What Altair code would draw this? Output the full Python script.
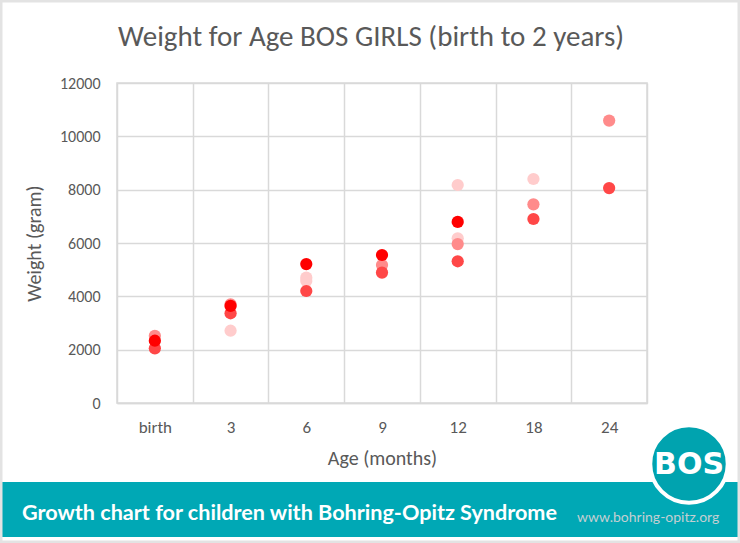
import altair as alt
import pandas as pd

# ---- data ----
ages = ["birth", "3", "6", "9", "12", "18", "24"]

# weight in grams per age category; None = no measurement
girl_5 = [None, 2710, 4700, None, 8175, 8400, None]
girl_4 = [None, None, 4575, None, 6175, None, None]
girl_3 = [2520, 3700, None, 5175, 5960, 7450, 10590]
girl_2 = [2050, 3365, 4200, 4890, 5315, 6900, 8060]
girl_1 = [2335, 3640, 5210, 5550, 6790, None, None]

series_names = ["Girl 5", "Girl 4", "Girl 3", "Girl 2", "Girl 1"]
series_values = [girl_5, girl_4, girl_3, girl_2, girl_1]
series_colors = ["#FFCCCC", "#FFCCCC", "#FF8B8B", "#FF4747", "#FF0000"]

y_ticks = [0, 2000, 4000, 6000, 8000, 10000, 12000]

title_text = "Weight for Age BOS GIRLS (birth to 2 years)"
footer_text = "Growth chart for children with Bohring-Opitz Syndrome"
site_text = "www.bohring-opitz.org"
logo_text = "BOS"

rows = []
for name, vals in zip(series_names, series_values):
    for a, v in zip(ages, vals):
        if v is not None:
            rows.append({"series": name, "age": a, "weight": v})
df = pd.DataFrame(rows)

FONT = "Carlito, Lato, 'Open Sans', sans-serif"
GREY = "#595959"
GRID = "#D9D9D9"
TEAL = "#00A8B5"

W, H = 530, 320
PAD_L, PAD_T = 117, 83
TOTAL_W, TOTAL_H = 740, 543

points = alt.Chart(df).mark_circle(size=150, opacity=1).encode(
    x=alt.X(
        "age:N",
        sort=ages,
        scale=alt.Scale(type="band", paddingInner=0, paddingOuter=0),
        axis=alt.Axis(
            title="Age (months)",
            tickBand="extent",
            grid=True,
            gridColor=GRID,
            gridWidth=1.5,
            ticks=False,
            domain=True,
            domainColor=GRID,
            domainWidth=1.5,
            labelAngle=0,
            labelPadding=16,
            labelFontSize=17,
            labelColor=GREY,
            labelFont=FONT,
            titleFont=FONT,
            titleFontSize=20,
            titleFontWeight="normal",
            titleColor=GREY,
            titlePadding=13,
        ),
    ),
    y=alt.Y(
        "weight:Q",
        scale=alt.Scale(domain=[0, 12000], nice=False),
        axis=alt.Axis(
            title="Weight (gram)",
            values=y_ticks,
            format="d",
            grid=True,
            gridColor=GRID,
            gridWidth=1.5,
            ticks=False,
            domain=False,
            labelPadding=17,
            labelFontSize=16,
            labelColor=GREY,
            labelFont=FONT,
            titleFont=FONT,
            titleFontSize=20,
            titleFontWeight="normal",
            titleColor=GREY,
            titlePadding=15,
        ),
    ),
    color=alt.Color(
        "series:N",
        scale=alt.Scale(domain=series_names, range=series_colors),
        legend=None,
    ),
)

one = pd.DataFrame({"k": [0]})

title = alt.Chart(pd.DataFrame({"t": [title_text]})).mark_text(
    font=FONT, fontSize=29, color=GREY, align="center", baseline="middle"
).encode(text="t:N", x=alt.value(254), y=alt.value(-46))

border = alt.Chart(one).mark_rect(
    fill=None, stroke="#E3E3E3", strokeWidth=3
).encode(
    x=alt.value(-PAD_L + 1), x2=alt.value(TOTAL_W - PAD_L - 1),
    y=alt.value(-PAD_T + 1), y2=alt.value(TOTAL_H - PAD_T - 1),
)

band = alt.Chart(one).mark_rect(color=TEAL).encode(
    x=alt.value(-PAD_L + 2), x2=alt.value(TOTAL_W - PAD_L - 2),
    y=alt.value(482 - PAD_T), y2=alt.value(537 - PAD_T),
)

footer = alt.Chart(pd.DataFrame({"t": [footer_text]})).mark_text(
    font="Lato, sans-serif",
    fontSize=21.6, fontWeight="bold", color="white", align="left", baseline="alphabetic"
).encode(text="t:N", x=alt.value(22 - PAD_L), y=alt.value(520 - PAD_T))

site = alt.Chart(pd.DataFrame({"t": [site_text]})).mark_text(
    font="Lato, sans-serif",
    fontSize=14, color="#C3CFD2", align="left", baseline="alphabetic"
).encode(text="t:N", x=alt.value(577 - PAD_L), y=alt.value(522 - PAD_T))

logo = alt.Chart(one).mark_point(
    shape="circle", filled=True, size=6000, fill="#00A3AF", stroke="white",
    strokeWidth=4, opacity=1
).encode(x=alt.value(689 - PAD_L), y=alt.value(464 - PAD_T))

logo_txt = alt.Chart(pd.DataFrame({"t": [logo_text]})).mark_text(
    font="'DejaVu Sans', sans-serif", fontSize=30, fontWeight="bold",
    color="white", align="center", baseline="middle"
).encode(text="t:N", x=alt.value(689 - PAD_L), y=alt.value(465 - PAD_T))

chart = alt.layer(points, title, band, footer, site, logo, logo_txt, border).properties(
    width=W,
    height=H,
    padding={"left": PAD_L, "top": PAD_T, "right": TOTAL_W - PAD_L - W, "bottom": TOTAL_H - PAD_T - H},
    autosize=alt.AutoSizeParams(type="none"),
    background="white",
).configure_view(stroke=GRID, strokeWidth=1.5)

chart.save("out.html", embed_options={"renderer": "svg", "actions": False})
